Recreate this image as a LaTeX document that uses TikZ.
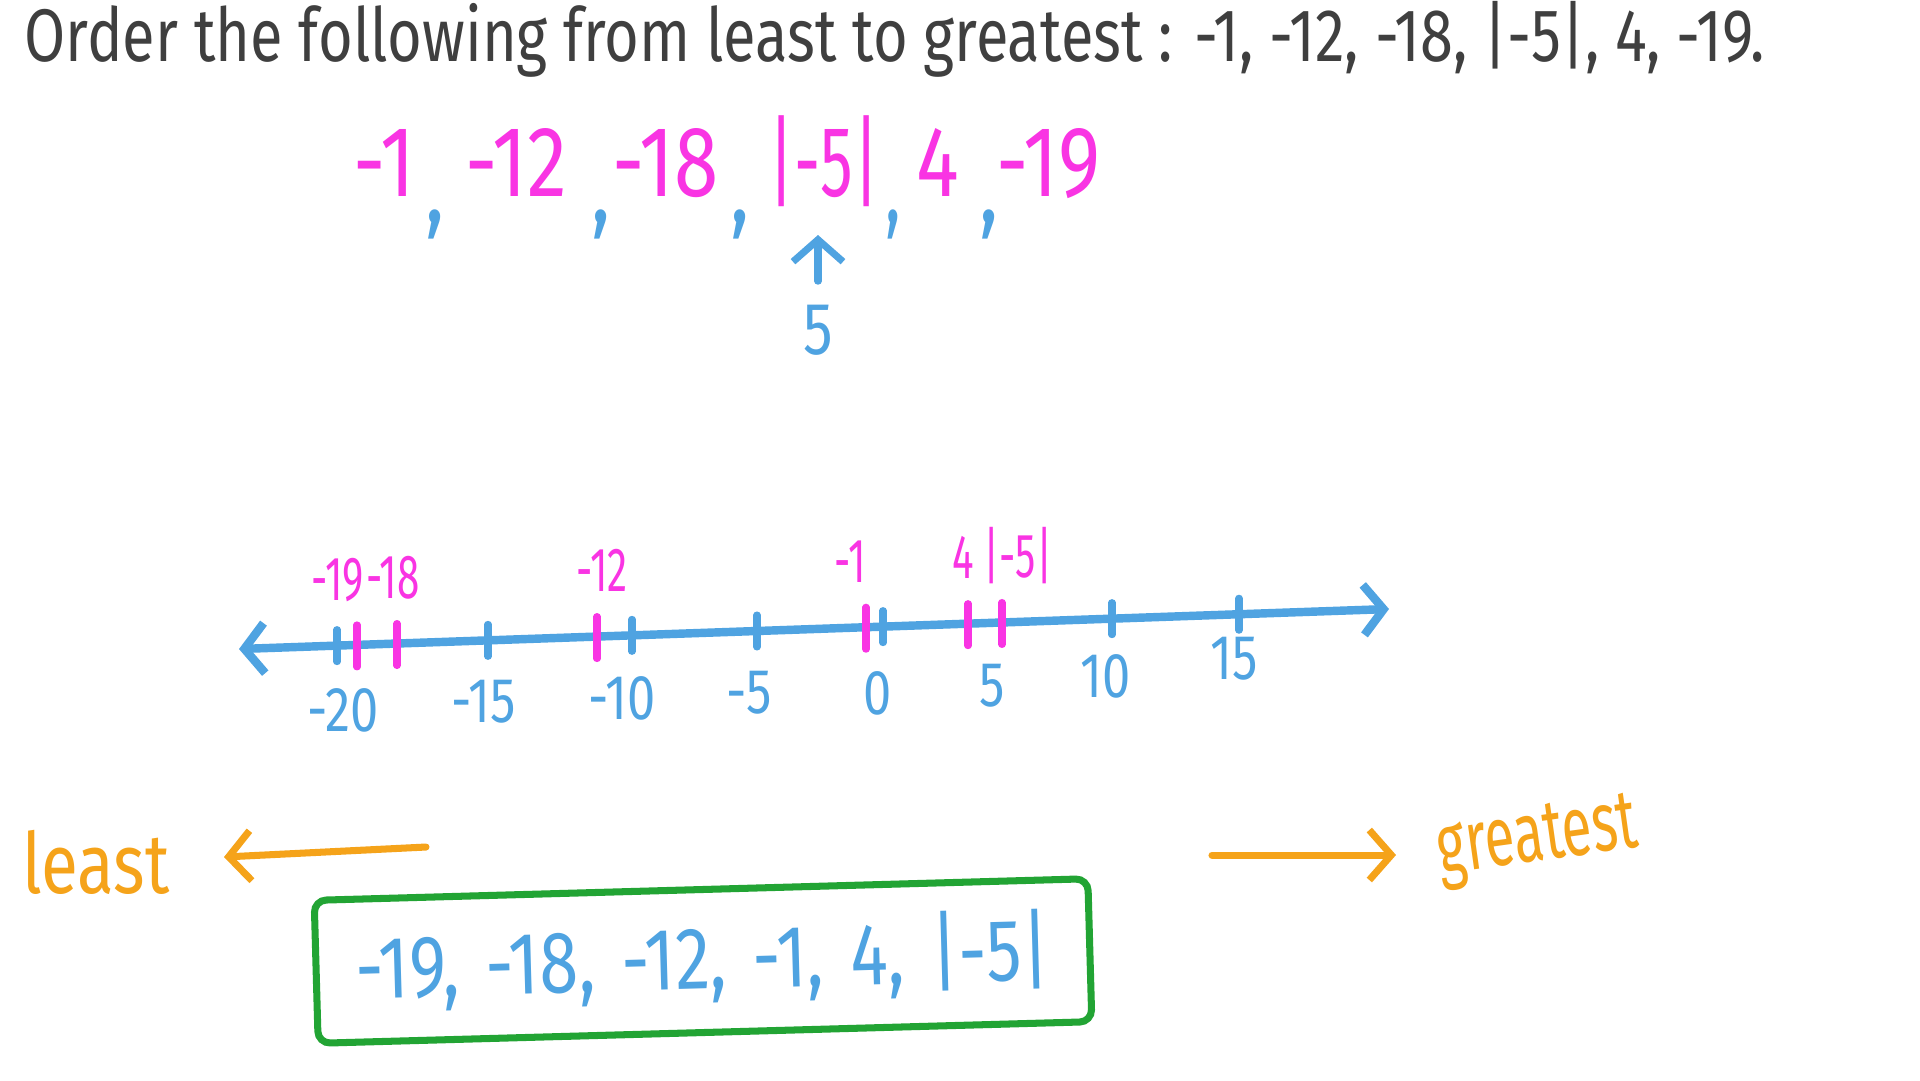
\documentclass[tikz,border=0pt]{standalone}
\usepackage{fontspec}
\usetikzlibrary{arrows.meta}
\newfontfamily\handfont[FakeStretch=0.8]{Fira Sans}
\newfontfamily\thinhand[FakeStretch=0.65]{Fira Sans}
\definecolor{inkgray}{HTML}{3F3F3F}
\definecolor{inkmag}{HTML}{F934E3}
\definecolor{inkblue}{HTML}{4FA3E1}
\definecolor{inkorange}{HTML}{F5A31A}
\definecolor{inkgreen}{HTML}{22A434}
\newlength\answergap
\setlength\answergap{7.5pt}
\newcommand\bluecomma{\textcolor{inkblue}{\raisebox{-2.6mm}{,}}}
\tikzset{
	pen/.style={line width=2pt, line cap=round, line join=round},
	barb/.style={-{Straight Barb[length=2.2mm,width=5mm]}},
	twoway/.style={{Straight Barb[length=2mm,width=5mm]}-{Straight Barb[length=2mm,width=5mm]}},
	hand/.style={inner sep=0pt, font=\handfont\fontsize{#1}{#1}\selectfont},
	thin/.style={inner sep=0pt, font=\thinhand\fontsize{#1}{#1}\selectfont},
	answer/.style={inner sep=0pt, font={\handfont\fontsize{25}{30}\selectfont\spaceskip\answergap}}
}
\begin{document}
\begin{tikzpicture}[x=0.1mm,y=-0.1mm]
	\useasboundingbox[fill=white] (0,0) rectangle (1920,1080);

	\node[hand=21.2, text=inkgray, anchor=base west] (question) at (24,61)
		{Order the following from least to greatest : -1, -12, -18, |-5|, 4, -19.};

	% given numbers
	\foreach \name/\val/\x/\gap in {n1/-1/353/1, n12/-12/465/2.5, n18/-18/612/1.2, n4/4/916/2}
		\node[hand=28.5, text=inkmag, anchor=base west] (\name) at (\x,196) {\val\hspace{\gap mm}\bluecomma};
	\node[thin=28.5, text=inkmag, anchor=base west] (abs) at (768,196) {|-5|\hspace{0.6mm}\bluecomma};
	\node[hand=28.5, text=inkmag, anchor=base west] (n19) at (996,196) {-19};
	\node[hand=21, text=inkblue] (five) at (818,330) {5};
	\draw[pen, inkblue, barb, shorten <=2.3mm, shorten >=3.9mm] (five) -- (five |- abs.base);

	% number line
	\coordinate (lineL) at (239,649);
	\coordinate (lineR) at (1389,609);
	\draw[pen, line width=2.4pt, inkblue, twoway] (lineL) -- (lineR);
	\foreach \v/\x/\lx/\ly [count=\i, evaluate=\x as \y using 649-(\x-239)/1150*40] in
		{-20/337/343/710, -15/488/484/702, -10/632/622/698, -5/757/749/693,
		 0/883/878/693, 5/1002/992/686, 10/1112/1106/676, 15/1239/1234/659}{
		\draw[pen, inkblue] (\x,\y-16) -- (\x,\y+16);
		\node[hand=18, text=inkblue] (tick\i) at (\lx,\ly) {\v};
	}
	\foreach \x in {357,397,597,866,968,1002}{
		\pgfmathsetmacro\y{649-(\x-239)/1150*40}
		\draw[pen, inkmag] (\x,\y-20) -- (\x,\y+22);
	}
	\foreach \lab/\x [count=\i, evaluate=\x as \y using 649-(\x-239)/1150*40] in
		{-19/338, -18/393, -12/602, -1/850, 4/963, |-5|/1018}
		\node[thin=17.7, text=inkmag] (mark\i) at (\x,\y-66) {\lab};

	% least and greatest
	\node[hand=24, text=inkorange] (least) at (96,862) {least};
	\node[thin=24, text=inkorange, rotate=8] (greatest) at (1538,842) {greatest};
	\coordinate (leastA) at (426,847);
	\coordinate (leastB) at (224,857);
	\coordinate (greatA) at (1212,855);
	\coordinate (greatB) at (1396,855);
	\draw[pen, inkorange, barb] (leastA) -- (leastB);
	\draw[pen, inkorange, barb] (greatA) -- (greatB);

	\node[answer, text=inkblue, draw=inkgreen, line width=2pt, rounded corners=1.2mm,
		minimum width=77.4mm, minimum height=14.3mm, rotate=1.6] (result) at (703,961)
		{-19, -18, -12, -1, 4, |-5|};
\end{tikzpicture}
\end{document}
